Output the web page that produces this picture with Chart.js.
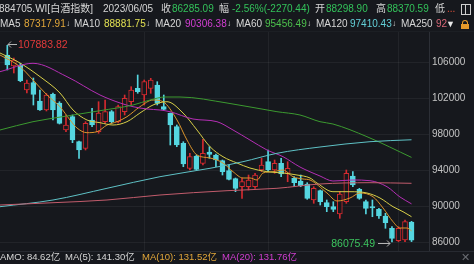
<!DOCTYPE html>
<html><head><meta charset="utf-8">
<script src="https://cdn.jsdelivr.net/npm/chart.js@4.4.0/dist/chart.umd.min.js"></script>
<style>
html,body{margin:0;padding:0;background:#16181d;overflow:hidden}
#wrap{position:relative;width:474px;height:264px;overflow:hidden;background:#16181d;font-family:"Liberation Sans","Noto Sans CJK SC",sans-serif;font-size:10px;color:#d6d6d6}
#wrap canvas{position:absolute;left:0;top:0}
.t{position:absolute;white-space:nowrap;line-height:12px}
.hl{position:absolute;left:0;width:474px;height:1px;background:#272a31}
</style></head><body>
<div id="wrap">
<canvas id="c" width="474" height="264"></canvas>
<div class="hl" style="top:31px;background:#1c1f24"></div>
<div class="hl" style="top:251px"></div>
<div id="hdr"></div>
</div>
<script>
// ---------- data ----------
const DATES = ["2023/03/03","2023/03/06","2023/03/07","2023/03/08","2023/03/09","2023/03/10","2023/03/13","2023/03/14","2023/03/15","2023/03/16","2023/03/17","2023/03/20","2023/03/21","2023/03/22","2023/03/23","2023/03/24","2023/03/27","2023/03/28","2023/03/29","2023/03/30","2023/03/31","2023/04/03","2023/04/04","2023/04/06","2023/04/07","2023/04/10","2023/04/11","2023/04/12","2023/04/13","2023/04/14","2023/04/17","2023/04/18","2023/04/19","2023/04/20","2023/04/21","2023/04/24","2023/04/25","2023/04/26","2023/04/27","2023/04/28","2023/05/04","2023/05/05","2023/05/08","2023/05/09","2023/05/10","2023/05/11","2023/05/12","2023/05/15","2023/05/16","2023/05/17","2023/05/18","2023/05/19","2023/05/22","2023/05/23","2023/05/24","2023/05/25","2023/05/26","2023/05/29","2023/05/30","2023/05/31","2023/06/01","2023/06/02","2023/06/05"];
const OPEN  = [106808,105589,105700,102928,103738,101709,100711,102452,101487,98494,99968,97197,96465,99602,98305,99414,100523,99414,100523,101631,103117,102374,103117,103483,101077,100346,98860,97020,94248,95612,94802,96055,95722,95091,93982,93095,92208,92208,92208,94059,94980,94059,94802,93694,93139,92840,92508,90734,91765,90434,89991,89182,90545,93394,91920,90545,89991,89703,88960,87596,86222,86299,88298.90];
const HIGH  = [107883.82,106476,105888,104037,104259,102928,102540,102595,101631,100157,100157,97275,99414,100900,101631,101820,100656,101265,102374,103294,104591,104037,104225,103848,102374,100379,99048,97197,95911,95722,97463,96642,95833,95168,94614,93173,93173,93505,93694,95357,96277,95168,95357,94980,93317,93505,92652,92208,91842,90734,90545,91654,94059,93871,92031,90734,90734,89814,89259,87774,87774,88517,88370.59];
const LOW   = [105146,104813,103848,102595,101265,100656,100600,99602,99159,98305,97086,95357,96277,98860,98128,99237,99237,99270,100157,101265,102562,101265,102562,101265,100711,96831,96642,94425,94059,94059,94614,95357,94425,93505,92951,91654,90922,91842,92031,93871,93871,93694,93317,92762,92208,92208,90811,90368,90179,89437,89437,88705,90368,92208,90811,89182,88882,88705,87596,86075.49,86111,86111,86120];
const CLOSE = [105700,106254,103959,103704,102452,100711,102374,100711,99237,99048,97385,96277,99237,99048,100379,100523,99414,101077,102008,102928,102740,103848,104037,101454,100789,99048,96831,94725,95534,94137,95911,95800,95168,93871,93029,92031,92762,92951,93505,94614,94059,94802,93616,94248,92652,92319,90922,92031,90545,89991,89703,91399,93694,92397,90922,89814,89847,88960,88217,86488,87596,88328,86285.09];

// moving-average lines: [candle position, value]
const MA5   = [[-1.12,106808],[1.95,105511],[3.94,104037],[6.09,102374],[8.08,101077],[9.62,99602],[10.69,98715],[12.22,98195],[13.76,98305],[15.29,99048],[16.83,99414],[18.36,99968],[20.35,101077],[22.35,101820],[23.88,101631],[26.03,99602],[27.56,97385],[29.09,95722],[31.09,95390],[33.08,94835],[34.62,93871],[36.15,93173],[37.22,93173],[38.3,92951],[39.22,93727],[40.75,93871],[42.29,94059],[43.82,93317],[45.35,93062],[46.43,92951],[49.03,91510],[50.57,90623],[52.56,90955],[54.1,91510],[56.09,91100],[57.63,89847],[59.16,88328],[60.23,87630],[61.3,87630],[62,87317.91]];
const MA10  = [[-1.12,107030],[1.95,105922],[5.02,104403],[8.08,102595],[10.08,100711],[12.22,99602],[14.22,99303],[16.21,99048],[18.36,99414],[20.35,100379],[22.35,101265],[24.49,101631],[26.95,100379],[29.09,98494],[31.09,96642],[33.08,95534],[35.23,94835],[37.22,94281],[39.83,93871],[42.29,93727],[44.43,93505],[46.43,93173],[47.5,92618],[49.95,91654],[52.56,91654],[55.17,91510],[57.16,90955],[59.16,89991],[60.69,89437],[62,88881.75]];
const MA20  = [[-1.12,104957],[3.94,105888],[9.16,104403],[14.22,102374],[17.3,101487],[19.28,101077],[21.43,100822],[23.42,100711],[24.95,100523],[28.48,99713],[32.16,99414],[34.62,98494],[37.22,97385],[39.83,96277],[42.29,95534],[44.89,94392],[47.96,93394],[49.95,92840],[53.02,92951],[55.63,92873],[58.24,92208],[60.23,91066],[62,90306.38]];
const MA60  = [[-1.12,98494],[3.94,99414],[9.16,100046],[14.22,100634],[19.28,101265],[21.89,101820],[24.19,102152],[26.49,102152],[33.7,101487],[41.36,100523],[44.89,100157],[47.96,99414],[49.95,99159],[55.17,97751],[62,95456.49]];
const MA120 = [[-1.12,89991],[7.01,90734],[15.29,92031],[23.42,93317],[31.09,94248],[36.15,94980],[41.36,95911],[47.96,96609],[55.63,97197],[62,97410.43]];
const MA250 = [[-1.12,90179],[7.01,90434],[15.29,90734],[23.42,91288],[33.7,91765],[41.36,92031],[47.96,92508],[55.63,92652],[62,92585]];

const Y_TICKS = [86000, 90000, 94000, 98000, 102000, 106000];
const MONTH_STARTS = ["2023/04/03","2023/05/04","2023/06/01"];

// header texts
const HEAD1 = [["884705.WI[白酒指数]",-1,"w"],["2023/06/05",103,"w"],["收",161,"w"],["86285.09",172,"g"],["幅",219,"w"],["-2.56%(-2270.44)",232,"g"],["开",315,"w"],["88298.90",326,"g"],["高",376,"w"],["88370.59",387,"g"],["低",435,"w"],["...",447,"r"]];
const HEAD2 = [["MA5",0,"w"],["87317.91",24,"ma5"],["↓",66,"w"],["MA10",74,"w"],["88881.75",104,"ma10"],["↓",146,"w"],["MA20",155,"w"],["90306.38",185,"ma20"],["↓",227,"w"],["MA60",236,"w"],["95456.49",265,"ma60"],["↓",307,"w"],["MA120",316,"w"],["97410.43",350,"ma120"],["↓",392,"w"],["MA250",401,"w"],["92",436,"ma250"]];
const FOOT = [["AMO: 84.62亿",0,"w"],["MA(5): 141.30亿",65,"w"],["MA(10): 131.52亿",142,"ma5"],["MA(20): 131.76亿",222,"ma20"]];

// ---------- styles ----------
const BG = '#16181d';
const UP = '#d42a2f', DOWN = '#55d6e0';
const GRID = 'rgba(255,255,255,0.055)';
const FONT = '"Liberation Sans","Noto Sans CJK SC",sans-serif';
const TXT = {w:'#d6d6d6', g:'#33c25a', r:'#e0503a', ma5:'#e3a83a', ma10:'#e2e052', ma20:'#d23fd2', ma60:'#4cc04c', ma120:'#63d0d8', ma250:'#d86878'};
const LINE = {ma5:'#dc952c', ma10:'#d8cf48', ma20:'#b52fb5', ma60:'#3c9a30', ma120:'#5fc2c6', ma250:'#c25c6c'};

// ---------- header html ----------
const hdr = document.getElementById('hdr');
function addRow(items, top, size){
  items.forEach(([t,x,c])=>{
    const s = document.createElement('span');
    s.className = 't'; s.textContent = t;
    s.style.left = x+'px'; s.style.top = top+'px'; s.style.color = TXT[c];
    s.style.fontSize = (t==='↓' ? 8 : size)+'px';
    hdr.appendChild(s);
  });
}
addRow(HEAD1, 3, 10);
addRow(HEAD2, 18, 10);
addRow(FOOT, 251, 9.5);
hdr.insertAdjacentHTML('beforeend',
  '<span class="t" style="left:446px;top:18px;color:#e8e8e8;font-size:9px">▼</span>'+
  '<div style="position:absolute;left:461px;top:4px;width:8px;height:9px;border:1px solid #cfcfcf"></div>'+
  '<div style="position:absolute;left:465px;top:5px;width:1px;height:9px;background:#cfcfcf"></div>'+
  '<div style="position:absolute;left:462px;top:20px;width:4px;height:4px;border:1px solid #e79a2a;border-bottom:none;border-radius:3px 3px 0 0"></div>'+
  '<div style="position:absolute;left:461px;top:24px;width:8px;height:5px;background:#e79a2a"></div>'+
  '<span class="t" style="left:461px;top:251px;color:#6a6d73;font-size:11px">✕</span>');

// ---------- chart ----------
const idxOf = d => DATES.indexOf(d);
const isUp = i => CLOSE[i] >= OPEN[i];
const wick = HIGH.map((h,i)=>({x:i, y:[LOW[i], h]}));
const body = OPEN.map((o,i)=>({x:i, y:[o, CLOSE[i]]}));
const pts = arr => arr.map(([x,y])=>({x, y}));
const fmt = v => v.toFixed(2);

function lineDs(arr, key){
  return {type:'line', data:pts(arr), borderColor:LINE[key], borderWidth:1, pointRadius:0,
          cubicInterpolationMode:'monotone', fill:false, order:0};
}

const marks = {
  id:'marks',
  afterDatasetsDraw(chart){
    const ctx = chart.ctx, xs = chart.scales.x, ys = chart.scales.y;
    let hi = 0, lo = 0;
    HIGH.forEach((v,i)=>{ if (v > HIGH[hi]) hi = i; });
    LOW.forEach((v,i)=>{ if (v < LOW[lo]) lo = i; });
    ctx.save();
    ctx.font = '10.5px ' + FONT;
    ctx.textBaseline = 'middle';
    ctx.lineWidth = 1;
    // highest
    let px = Math.round(xs.getPixelForValue(hi)), py = Math.round(ys.getPixelForValue(HIGH[hi])) - 1;
    ctx.strokeStyle = '#b5b5b5';
    ctx.beginPath();
    ctx.moveTo(px+1, py+0.5); ctx.lineTo(px+10, py+0.5);
    ctx.moveTo(px+1, py+0.5); ctx.lineTo(px+4, py-2.5);
    ctx.moveTo(px+1, py+0.5); ctx.lineTo(px+4, py+3.5);
    ctx.stroke();
    ctx.fillStyle = '#e23a3a'; ctx.textAlign = 'left';
    ctx.fillText(fmt(HIGH[hi]), px+11, py+1);
    // lowest
    px = Math.round(xs.getPixelForValue(lo)); py = Math.round(ys.getPixelForValue(LOW[lo])) + 1;
    ctx.beginPath();
    ctx.moveTo(px-14, py+0.5); ctx.lineTo(px-2, py+0.5);
    ctx.moveTo(px-2, py+0.5); ctx.lineTo(px-5, py-2.5);
    ctx.moveTo(px-2, py+0.5); ctx.lineTo(px-5, py+3.5);
    ctx.stroke();
    ctx.fillStyle = '#3cc45e'; ctx.textAlign = 'right';
    ctx.fillText(fmt(LOW[lo]), px-17, py+1);
    ctx.restore();
  }
};

new Chart(document.getElementById('c'), {
  type:'bar',
  data:{datasets:[
    lineDs(MA250,'ma250'), lineDs(MA120,'ma120'), lineDs(MA60,'ma60'),
    lineDs(MA20,'ma20'), lineDs(MA10,'ma10'), lineDs(MA5,'ma5'),
    {data:body, grouped:false, barThickness:5, minBarLength:1, order:2,
     backgroundColor:body.map((_,i)=>isUp(i)?BG:DOWN), borderColor:body.map((_,i)=>isUp(i)?UP:DOWN),
     borderWidth:1, borderSkipped:false},
    {data:wick, grouped:false, barThickness:1, order:3,
     backgroundColor:wick.map((_,i)=>isUp(i)?UP:DOWN), borderWidth:0}
  ]},
  options:{
    responsive:false, animation:false, events:[],
    layout:{padding:{top:32, bottom:13, left:0, right:0}},
    plugins:{legend:{display:false}, tooltip:{enabled:false}},
    scales:{
      x:{type:'linear', min:-1.12, max:64.68, offset:false,
         afterBuildTicks:s=>{ s.ticks = MONTH_STARTS.map(d=>({value:idxOf(d)})); },
         ticks:{display:false}, grid:{color:GRID, drawTicks:false, offset:false}, border:{display:false},
         afterFit:s=>{ s.height = 0; }},
      y:{type:'linear', position:'right', min:85080, max:109358,
         afterBuildTicks:s=>{ s.ticks = Y_TICKS.map(v=>({value:v})); },
         ticks:{color:'#c4c4c4', font:{family:FONT, size:10}, padding:3, callback:v=>String(v)},
         grid:{color:GRID, drawTicks:false}, border:{display:true, color:'#2c2f36'},
         afterFit:s=>{ s.width = 45; }}
    }
  },
  plugins:[marks]
});
</script>
</body></html>
